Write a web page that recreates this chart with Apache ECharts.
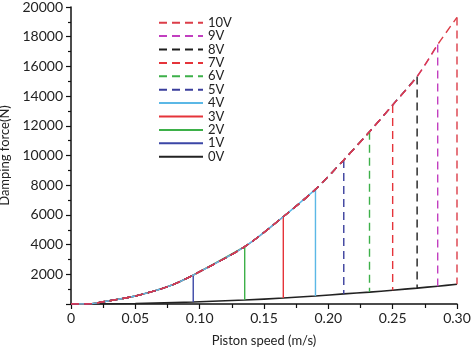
<!DOCTYPE html>
<html lang="en">
<head>
    <meta charset="UTF-8">
    <title>Damping force vs piston speed</title>
    <script src="https://cdn.jsdelivr.net/npm/echarts@6/dist/echarts.min.js"></script>
    <style>
        html, body { margin: 0; padding: 0; background: #fff; }
        #chart { width: 474px; height: 353px; }
    </style>
</head>
<body>
<div id="chart"></div>
<script>
    // voltages, 0V .. 10V
    var voltages = ['0V', '1V', '2V', '3V', '4V', '5V', '6V', '7V', '8V', '9V', '10V'];
    var colors = ['#222222', '#3b46a6', '#3db049', '#e5343a', '#5bb8e6', '#3a3e9c',
                  '#3db049', '#e5343a', '#1e1e1e', '#c23fc0', '#dc3d48'];
    var dashed = [false, false, false, false, false, true, true, true, true, true, true];

    // upper curve start (before the 1V cut)
    var leadSpeed = [0, 0.012, 0.025, 0.05, 0.075];
    var leadForce = [0, 0, 150, 540, 1165];

    // cut speed of each voltage (1V..10V), force on upper curve and on 0V curve there
    var cutSpeed = [0.095, 0.135, 0.165, 0.19, 0.212, 0.232, 0.250, 0.269, 0.285, 0.30];
    var topForce = [1950, 3860, 5880, 7720, 9700, 11600, 13400, 15320, 17470, 19300];
    var baseForce = [135, 270, 400, 540, 680, 800, 930, 1070, 1200, 1330];

    // 0V curve start
    var zeroSpeed = [0, 0.05];
    var zeroForce = [0, 35];

    var series = [];
    // 0V
    var d0 = [];
    for (var i = 0; i < zeroSpeed.length; i++) d0.push([zeroSpeed[i], zeroForce[i]]);
    for (i = 0; i < cutSpeed.length; i++) d0.push([cutSpeed[i], baseForce[i]]);
    series.push({
        name: voltages[0], type: 'line', data: d0, symbol: 'none', z: 2, smooth: 0.3,
        lineStyle: { color: colors[0], width: 1.6 }, itemStyle: { color: colors[0] }
    });
    for (var v = 1; v < voltages.length; v++) {
        var style = { color: colors[v], width: 1.4, type: dashed[v] ? [8, 5] : 'solid' };
        // curve part
        var d = [];
        for (i = 0; i < leadSpeed.length; i++) d.push([leadSpeed[i], leadForce[i]]);
        for (i = 0; i < v; i++) d.push([cutSpeed[i], topForce[i]]);
        series.push({
            name: voltages[v], type: 'line', data: d, symbol: 'none', z: 2, smooth: 0.3,
            lineStyle: style, itemStyle: { color: colors[v] }
        });
        // drop at the cut speed
        series.push({
            name: voltages[v], type: 'line', symbol: 'none', z: 2,
            data: [[cutSpeed[v - 1], topForce[v - 1]], [cutSpeed[v - 1], baseForce[v - 1]]],
            lineStyle: style, itemStyle: { color: colors[v] }
        });
    }

    var chart = echarts.init(document.getElementById('chart'));
    var font = 'Lato';
    chart.setOption({
        animation: false,
        grid: { left: 71, right: 17, top: 7, bottom: 49, containLabel: false, outerBoundsMode: 'none' },
        legend: {
            data: voltages.slice().reverse(),
            orient: 'vertical',
            left: 158, top: 16, padding: 0,
            itemWidth: 44, itemHeight: 10, itemGap: 0,
            itemStyle: { opacity: 0 },
            textStyle: { fontFamily: font, fontSize: 13, color: '#222', lineHeight: 13.4 }
        },
        xAxis: {
            type: 'value', min: 0, max: 0.3, interval: 0.05,
            name: 'Piston speed (m/s)', nameLocation: 'middle', nameGap: 30,
            nameTextStyle: { fontFamily: font, fontSize: 13, color: '#222' },
            axisLine: { lineStyle: { color: '#111', width: 1.5 } },
            axisTick: { length: 5, lineStyle: { color: '#111', width: 1.2 } },
            minorTick: { show: true, splitNumber: 2, length: 4, lineStyle: { color: '#111', width: 1.2 } },
            splitLine: { show: false },
            axisLabel: {
                fontFamily: font, fontSize: 14, color: '#222', margin: 7,
                formatter: function (val) { return val === 0 ? '0' : val.toFixed(2); }
            }
        },
        yAxis: {
            type: 'value', min: 0, max: 20000, interval: 2000,
            name: 'Damping force(N)', nameLocation: 'middle', nameGap: 52,
            nameTextStyle: { fontFamily: font, fontSize: 13, color: '#222' },
            axisLine: { show: true, lineStyle: { color: '#111', width: 1.5 } },
            axisTick: { show: true, length: 5, lineStyle: { color: '#111', width: 1.2 } },
            minorTick: { show: true, splitNumber: 2, length: 3, lineStyle: { color: '#111', width: 1.2 } },
            splitLine: { show: false },
            axisLabel: {
                fontFamily: font, fontSize: 14, color: '#222', margin: 8,
                formatter: function (val) { return val === 0 ? '' : val; }
            }
        },
        series: series
    });
</script>
</body>
</html>
